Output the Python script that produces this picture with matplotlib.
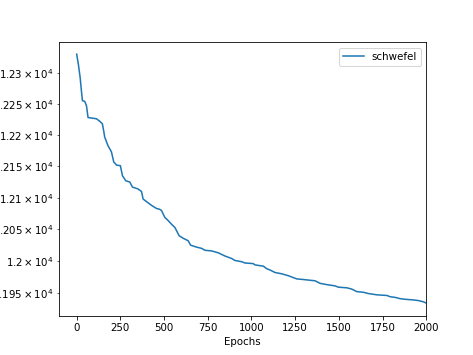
import matplotlib
matplotlib.use('Agg')
import matplotlib.pyplot as plt

# best fitness per epoch
epochs = [0, 10, 20, 27, 33, 46, 56, 65, 113, 132, 147, 155, 160, 179, 199, 212,
          228, 250, 262, 281, 304, 319, 351, 371, 380, 399, 428, 457, 472, 485,
          504, 523, 543, 562, 586, 609, 638, 652, 686, 715, 734, 772, 810, 848,
          887, 905, 944, 963, 1010, 1020, 1068, 1087, 1106, 1135, 1173, 1211,
          1230, 1259, 1297, 1364, 1393, 1431, 1479, 1497, 1546, 1574, 1603, 1641,
          1669, 1718, 1775, 1794, 1822, 1851, 1880, 1927, 1956, 1985, 2000]
schwefel = [12330, 12313, 12292, 12271, 12255, 12254, 12247, 12228, 12226, 12222,
            12218, 12206, 12197, 12183, 12173, 12157, 12152, 12151, 12135, 12127,
            12125, 12117, 12114, 12110, 12098, 12094, 12088, 12083, 12082, 12080,
            12069, 12064, 12058, 12053, 12040, 12036, 12032, 12025, 12022, 12020,
            12017, 12016, 12013, 12008, 12004, 12001, 11999, 11997, 11996, 11994,
            11992, 11988, 11986, 11982, 11980, 11977, 11975, 11972, 11971, 11969,
            11965, 11963, 11961, 11959, 11958, 11956, 11952, 11951, 11949, 11947,
            11946, 11944, 11943, 11941, 11940, 11939, 11938, 11936, 11934]

fig = plt.figure(figsize=(6.4, 4.8), dpi=74)
plt.semilogy(epochs, schwefel, label='schwefel')
plt.xlim(-100, 2000)
plt.ylim(11914, 12349)
plt.xlabel('Epochs')
plt.legend(loc='upper right')
plt.savefig('out.png', dpi=74)
